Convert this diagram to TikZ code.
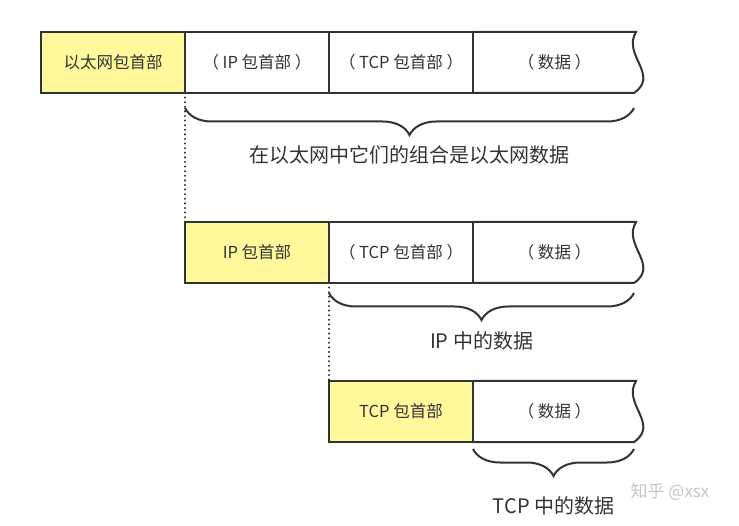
\documentclass[tikz,border=0pt]{standalone}
\usepackage{fontspec}
\setmainfont{Noto Sans CJK SC}
\usetikzlibrary{positioning,decorations.pathreplacing}
\definecolor{hdrfill}{HTML}{FFF99C}
\definecolor{ink}{HTML}{333333}
\begin{document}
\begin{tikzpicture}[x=1pt, y=-1pt, color=ink, line width=2pt,
    cell/.style={draw, outer sep=0pt, inner sep=0pt, minimum width=144pt, minimum height=61pt, font=\fontsize{16.5}{19}\selectfont},
    hdr/.style={cell, fill=hdrfill},
    datacell/.style={cell, draw=none, minimum width=163pt},
    lbl/.style={font=\fontsize{20}{24}\selectfont},
    brace/.style={decorate, decoration={brace, mirror, amplitude=27pt}},
    dots/.style={line cap=round, dash pattern=on 0pt off 4.6pt, line width=2.3pt}]
\useasboundingbox (0,0) rectangle (739,526);
% first row: ethernet frame
\node[hdr] (eth) at (113,62.5) {以太网包首部};
\node[cell, right=0pt of eth] (ip1) {（ IP 包首部 ）};
\node[cell, right=0pt of ip1] (tcp1) {（ TCP 包首部 ）};
\node[datacell, right=0pt of tcp1] (data1) {（ 数据 ）};
\draw (data1.north west)--(data1.north east) .. controls +(-14,23) and +(26,-18) .. ([xshift=-2pt]data1.south east)--(data1.south west);
\draw[brace] ([yshift=-15pt]ip1.south west)--([xshift=-2pt,yshift=-15pt]data1.south east)node[lbl, midway, yshift=-47pt](lbl1){在以太网中它们的组合是以太网数据};
% second row: IP packet
\node[hdr, below=129pt of ip1] (ip2) {IP 包首部};
\node[cell, right=0pt of ip2] (tcp2) {（ TCP 包首部 ）};
\node[datacell, right=0pt of tcp2] (data2) {（ 数据 ）};
\draw (data2.north west)--(data2.north east) .. controls +(-14,23) and +(26,-18) .. ([xshift=-2pt]data2.south east)--(data2.south west);
\draw[brace] ([yshift=-10pt]tcp2.south west)--([xshift=-2pt,yshift=-10pt]data2.south east)node[lbl, midway, yshift=-48pt](lbl2){IP 中的数据};
% third row: TCP segment
\node[hdr, below=98pt of tcp2] (tcp3) {TCP 包首部};
\node[datacell, right=0pt of tcp3] (data3) {（ 数据 ）};
\draw (data3.north west)--(data3.north east) .. controls +(-14,23) and +(26,-18) .. ([xshift=-2pt]data3.south east)--(data3.south west);
\draw[brace] ([yshift=-7pt]data3.south west)--([xshift=-2pt,yshift=-7pt]data3.south east)node[lbl, midway, yshift=-57pt](lbl3){TCP 中的数据};
\draw[dots] (eth.south east)--(ip2.north west);
\draw[dots] (ip2.south east)--(tcp3.north west);
\node[font=\fontsize{17}{20}\selectfont, text=gray!45] (mark) at (670,492) {知乎 @xsx};
\end{tikzpicture}
\end{document}
